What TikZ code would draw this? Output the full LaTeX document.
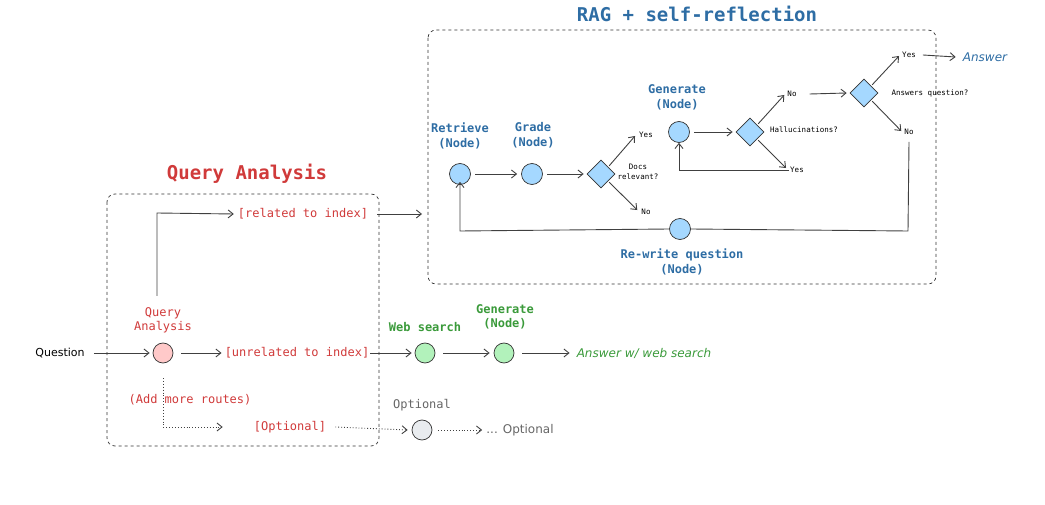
\documentclass[tikz,border=0pt]{standalone}
\usepackage{fontspec}
\setmonofont{DejaVu Sans Mono}
\newfontfamily\hand{DejaVu Sans}
\usetikzlibrary{arrows.meta,shapes.geometric}
\definecolor{rblue}{HTML}{2E6DA4}
\definecolor{rred}{HTML}{D03A3A}
\definecolor{rgreen}{HTML}{3A9A3A}
\definecolor{cblue}{HTML}{A5D8FF}
\definecolor{cpink}{HTML}{FFC9C9}
\definecolor{cgreen}{HTML}{B2F2BB}
\definecolor{cgray}{HTML}{E9ECEF}
\tikzset{
 every node/.style={font=\ttfamily\fontsize{12}{14}\selectfont, align=center, inner sep=1pt},
 ar/.style={-{Straight Barb[length=5pt,width=8pt]}, line width=0.9pt, draw=black!75},
 dar/.style={ar, dotted},
 ln/.style={line width=0.9pt, draw=black!75},
 circ/.style={circle, draw=black!80, line width=0.7pt, minimum size=21pt, inner sep=0pt},
 dia/.style={diamond, draw=black!80, fill=cblue, line width=0.7pt, minimum size=28pt, inner sep=0pt},
 box/.style={draw=black!80, dashed, rounded corners=8pt, line width=0.7pt},
 bl/.style={text=rblue, font=\ttfamily\bfseries\fontsize{12}{15}\selectfont},
 sm/.style={font=\ttfamily\fontsize{7.5}{10}\selectfont},
 rd/.style={text=rred, font=\ttfamily\fontsize{12}{14}\selectfont},
 gr/.style={text=rgreen, font=\ttfamily\bfseries\fontsize{12}{14}\selectfont},
}
\begin{document}
\begin{tikzpicture}[x=1pt,y=-1pt]
\useasboundingbox (0,0) rectangle (1045,505);
% boxes
\draw[box] (428,30) rectangle (936,284);
\draw[box] (107,194) rectangle (379,446);
\node[text=rblue, font=\ttfamily\bfseries\fontsize{19}{21}\selectfont] (t1) at (697,14) {RAG + self-reflection};
\node[text=rred, font=\ttfamily\bfseries\fontsize{19}{21}\selectfont] (t2) at (247,174) {Query Analysis};
% RAG part
\node[circ, fill=cblue] (ret) at (460,174) {};
\node[bl] (retl) at (460,136) {Retrieve\\(Node)};
\node[circ, fill=cblue] (gra) at (532,174) {};
\node[bl] (gral) at (533,135) {Grade\\(Node)};
\node[dia] (d1) at (601,174) {};
\node[sm] (y1) at (646,135) {Yes};
\node[sm] (dr) at (638,172) {Docs\\relevant?};
\node[sm] (n1) at (646,212) {No};
\node[circ, fill=cblue] (gen) at (679,132) {};
\node[bl] (genl) at (677,97) {Generate\\(Node)};
\node[dia] (d2) at (750,132) {};
\node[sm] (hl) at (804,130) {Hallucinations?};
\node[sm] (n2) at (792,94) {No};
\node[sm] (y2) at (797,170) {Yes};
\node[dia] (d3) at (864,93) {};
\node[sm] (aq) at (930,93) {Answers question?};
\node[sm] (y3) at (909,55) {Yes};
\node[sm] (n3) at (909,132) {No};
\node[text=rblue, font=\hand\itshape\fontsize{12}{14}\selectfont] (ans) at (985,57) {Answer};
\node[circ, fill=cblue] (rw) at (680,229) {};
\node[bl] (rwl) at (682,262) {Re-write question\\(Node)};
\coordinate (c1) at (908,231);
\coordinate (c2) at (460,231);
\coordinate (c3) at (679,170);
\draw[ar] (ret) ++(15,0) -- ([xshift=-4pt]gra.west);
\draw[ar] (gra) ++(15,0) -- ([xshift=-3pt]d1.west);
\draw[ar] (d1.north east) ++(1,-1) -- ([shift={(-3pt,3pt)}]y1.south west);
\draw[ar] (d1.south east) ++(1,1) -- ([shift={(-3pt,-2pt)}]n1.north west);
\draw[ar] (gen) ++(15,0) -- ([xshift=-3pt]d2.west);
\draw[ar] (d2.north east) ++(1,-1) -- ([shift={(-2pt,3pt)}]n2.south west);
\draw[ar] (d2.south east) ++(1,1) -- ([shift={(-3pt,-2pt)}]y2.north west);
\draw[ar] (y2.west) -- (c3) -- (gen.south);
\draw[ar] (n2.east) ++(12,0) -- ([xshift=-3pt]d3.west);
\draw[ar] (d3.north east) ++(1,-1) -- ([shift={(-2pt,3pt)}]y3.south west);
\draw[ar] (d3.south east) ++(1,1) -- ([shift={(-2pt,-3pt)}]n3.north west);
\draw[ar] (y3.east) ++(6,0) -- ([xshift=-6pt]ans.west);
\draw[ln] (n3.south) ++(0,6) -- (c1) -- (rw.east);
\draw[ar] (rw.west) -- (c2) -- ([yshift=3pt]ret.south);
% Query analysis
\node[font=\hand\fontsize{11}{13}\selectfont] (q) at (60,353) {Question};
\node[circ, fill=cpink, minimum size=20pt] (qa) at (163,353) {};
\node[text=rred] (qal) at (163,320) {Query\\Analysis};
\node[rd] (rel) at (303,214) {[related to index]};
\node[rd] (unr) at (297,353) {[unrelated to index]};
\node[rd] (amr) at (190,400) {(Add more routes)};
\node[rd] (opt) at (290,427) {[Optional]};
\node[circ, fill=cgreen, minimum size=20pt] (ws) at (425,353) {};
\node[gr] (wsl) at (425,327) {Web search};
\node[circ, fill=cgreen, minimum size=20pt] (g2) at (504,353) {};
\node[gr] (g2l) at (505,317) {Generate\\(Node)};
\node[text=rgreen, font=\hand\itshape\fontsize{12}{14}\selectfont] (aws) at (644,353) {Answer w/ web search};
\node[circ, fill=cgray, minimum size=20pt] (oc) at (422,430) {};
\node[text=black!60] (ocl) at (422,405) {Optional};
\node[text=black!60, font=\hand\fontsize{12}{14}\selectfont] (oo) at (520,430) {... Optional};
\coordinate (qup) at (157,296);
\coordinate (qtop) at (157,213);
\coordinate (qdn) at (163,378);
\coordinate (qbot) at (163,427);
\draw[ar] (q.east) ++(8,0) -- ([xshift=-3pt]qa.west);
\draw[ar] (qup) -- (qtop) -- ([xshift=-3pt]rel.west);
\draw[ar] (rel.east) ++(8,0) -- (422,214);
\draw[ar] (qa.east) ++(8,0) -- ([xshift=-2pt]unr.west);
\draw[ar] (unr.east) -- ([xshift=-3pt]ws.west);
\draw[ar] (ws.east) ++(8,0) -- ([xshift=-4pt]g2.west);
\draw[ar] (g2.east) ++(8,0) -- ([xshift=-6pt]aws.west);
\draw[dar] (qdn) -- (qbot) -- ([xshift=-30pt]opt.west);
\draw[dar] (opt.east) ++(8,0) -- ([xshift=-4pt]oc.west);
\draw[dar] (oc.east) ++(6,0) -- ([xshift=-3pt]oo.west);
\end{tikzpicture}
\end{document}
